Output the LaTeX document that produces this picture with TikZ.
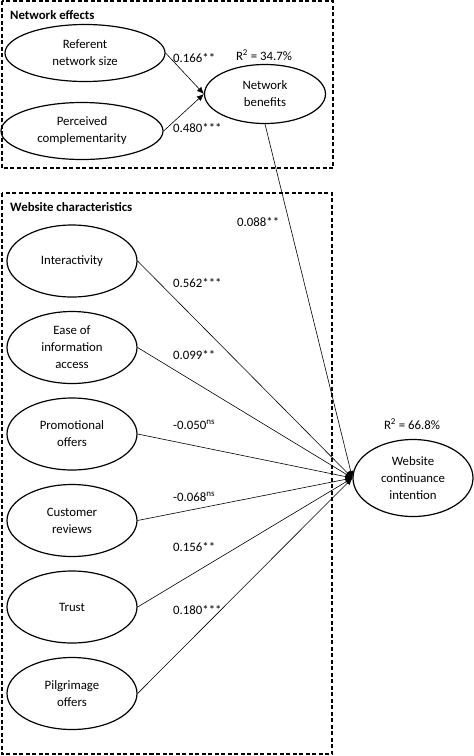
\documentclass[tikz,border=0pt]{standalone}
\usepackage{fontspec}
\setmainfont{Carlito}
\usetikzlibrary{shapes.geometric,arrows.meta}
\begin{document}
\begin{tikzpicture}[x=1pt,y=-1pt,
  construct/.style={ellipse,draw,line width=1.2pt,inner sep=0pt,align=center,font=\fontsize{12.8}{17}\selectfont},
  effect/.style={line width=0.6pt,-{Latex[length=7pt,width=6pt]}},
  coef/.style={anchor=west,inner sep=0pt,font=\fontsize{12.8}{14}\selectfont},
  group/.style={line width=1.1pt,dash pattern=on 4pt off 2.5pt}]
\useasboundingbox (0,0) rectangle (474,756);
% the two blocks
\draw[group] (2,1) rectangle (333,168);
\draw[group] (2,193) rectangle (332,754);
\node[anchor=west,inner sep=0pt,font=\fontsize{12.8}{14}\selectfont\bfseries] (ne) at (10,15) {Network effects};
\node[anchor=west,inner sep=0pt,font=\fontsize{12.8}{14}\selectfont\bfseries] (wc) at (10,207) {Website characteristics};
% constructs
\node[construct,minimum width=160pt,minimum height=57pt] (rns) at (85,53) {Referent\\network size};
\node[construct,minimum width=162pt,minimum height=57pt] (pc) at (82,131) {Perceived\\complementarity};
\node[construct,minimum width=121pt,minimum height=59pt] (nb) at (265,94) {Network\\benefits};
\node[construct,minimum width=120pt,minimum height=77pt] (wci) at (413,478) {Website\\continuance\\intention};
\foreach \n/\y/\t in {ia/261/Interactivity,eia/347.5/Ease of\\information\\access,po/434/Promotional\\offers,
    cr/520.5/Customer\\reviews,tr/607/Trust,pg/693.5/Pilgrimage\\offers}
  \node[construct,minimum width=130pt,minimum height=72pt] (\n) at (72,\y) {\t};
% paths
\draw[effect] (rns.east) -- (nb.west);
\draw[effect] (pc.east) -- (nb.west);
\draw[effect] (nb.south) -- (wci.west);
\foreach \n in {ia,eia,po,cr,tr,pg}
  \draw[effect] (\n.east) -- (wci.west);
% coefficients
\node[coef] (c1) at (173,58) {0.166**};
\node[coef] (c2) at (173,128) {0.480***};
\node[coef,anchor=center] (r1) at (264,55) {R\textsuperscript{2} = 34.7\%};
\node[coef,anchor=center] (r2) at (412,424) {R\textsuperscript{2} = 66.8\%};
\node[coef] (c3) at (237,222) {0.088**};
\node[coef] (c4) at (173,283) {0.562***};
\node[coef] (c5) at (173,355) {0.099**};
\node[coef] (c6) at (173,425) {-0.050\textsuperscript{ns}};
\node[coef] (c7) at (173,497) {-0.068\textsuperscript{ns}};
\node[coef] (c8) at (173,547) {0.156**};
\node[coef] (c9) at (173,610) {0.180***};
\end{tikzpicture}
\end{document}
